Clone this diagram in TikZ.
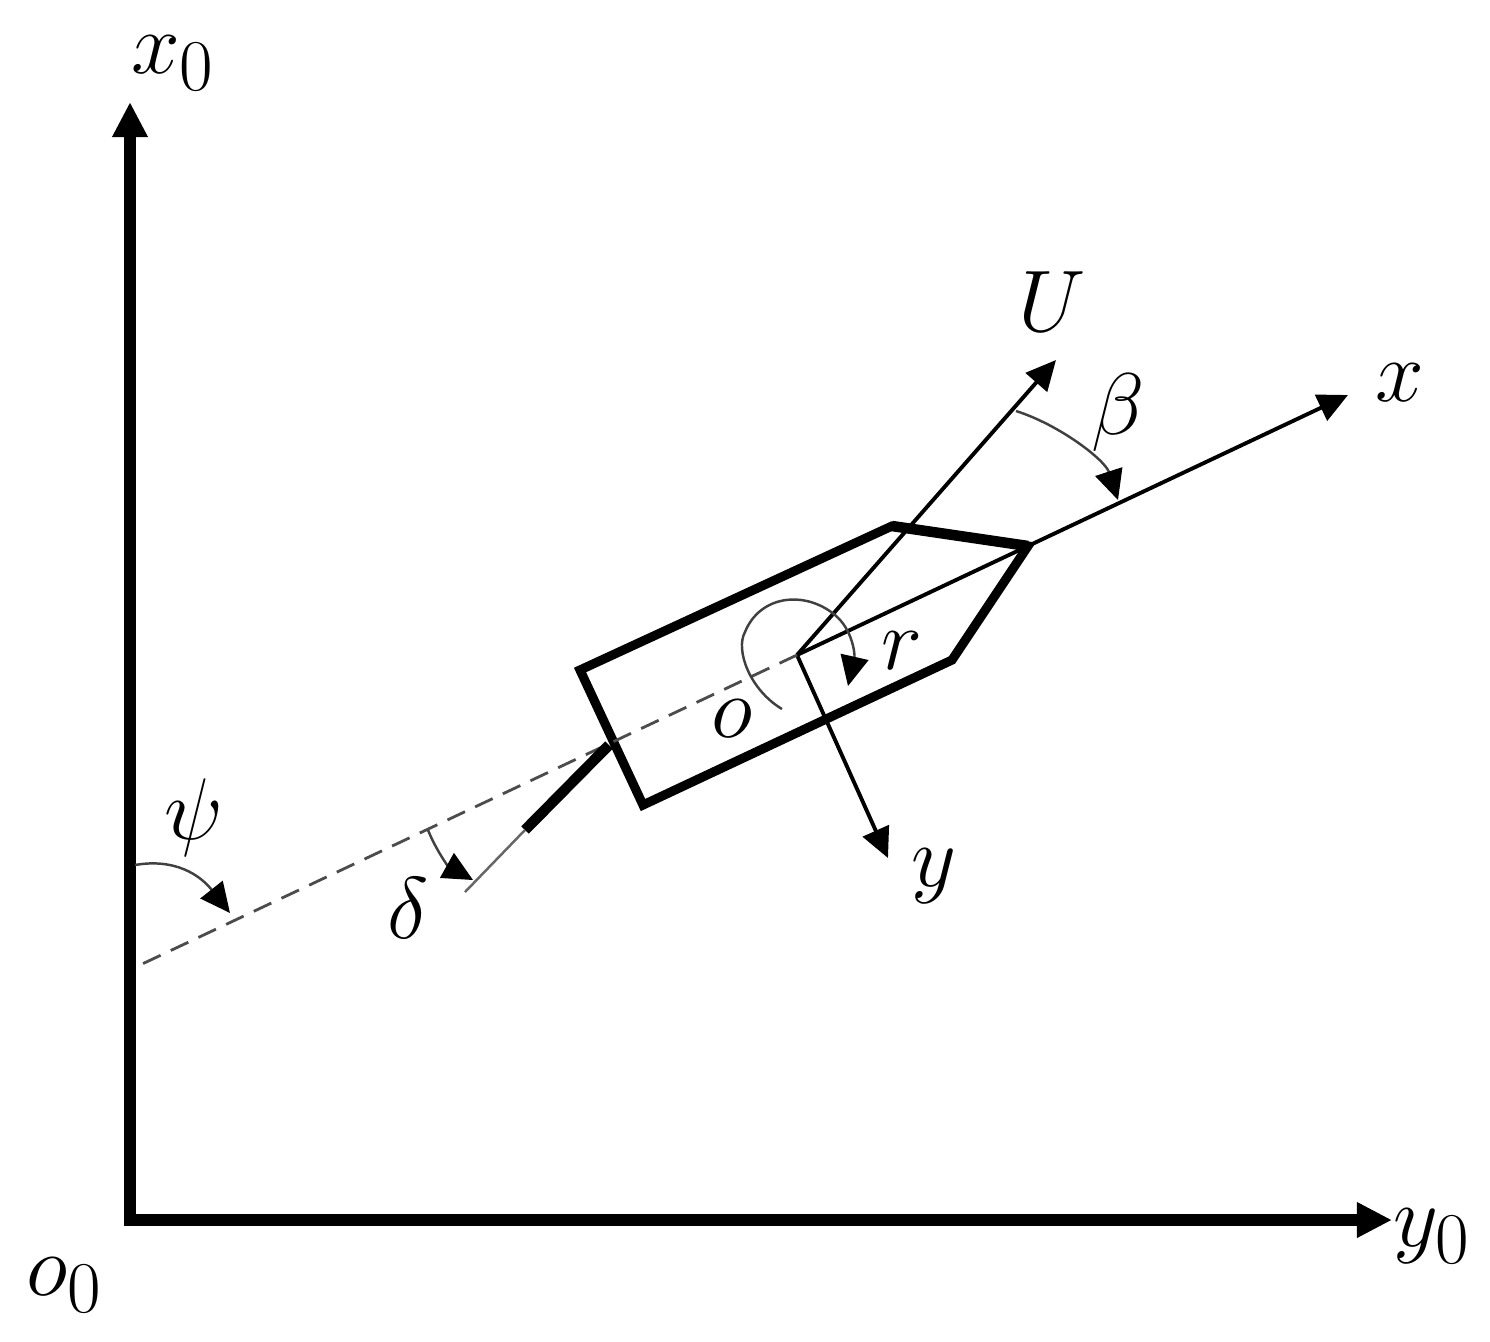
\documentclass[tikz,border=0pt]{standalone}
\usetikzlibrary{arrows.meta}

\tikzset{
  axisline/.style={line width=3.3pt,-{Triangle[length=10pt,width=9.5pt]}},
  vecline/.style={line width=1.1pt,-{Triangle[length=8.5pt,width=8pt]}},
  hullline/.style={line width=2.6pt,line join=miter},
  bendline/.style={line width=0.7pt,black!75,-{Triangle[length=8.5pt,width=8pt,black]}},
  symb/.style={inner sep=0pt,font=\fontsize{27}{30}\selectfont},
  bigsymb/.style={inner sep=0pt,font=\fontsize{30}{33}\selectfont}
}

\begin{document}
\begin{tikzpicture}[x=0.01cm,y=-0.01cm]

\useasboundingbox (0,0) rectangle (1490,1341);

% frame
\coordinate (origin) at (130,1220);
\coordinate (xtip) at (130,102);
\coordinate (ytip) at (1392,1220);
\draw[axisline] (origin) -- (xtip);
\draw[axisline] ([xshift=-1.6pt]origin) -- (ytip);

% hull
\coordinate (stern) at (580,670);
\coordinate (deck) at (892,526);
\coordinate (bow) at (1028,546);
\coordinate (chine) at (952,660);
\coordinate (keel) at (643,805);
\draw[hullline] (stern) -- (deck) -- (bow) -- (chine) -- (keel) -- cycle;
\draw[line width=3pt] (deck) -- (bow);

% body axes
\coordinate (o) at (797,655);
\coordinate (xbody) at (1348,395);
\coordinate (ubody) at (1056,360);
\coordinate (ybody) at (888,858);
\draw[vecline] (o) -- (xbody);
\draw[vecline] (o) -- (ubody);
\draw[vecline] (o) -- (ybody);

% centre line
\coordinate (cline) at (140,965);
\draw[line width=0.8pt,black!70,dash pattern=on 5.5pt off 3.2pt] (o) -- (cline);

% rudder
\coordinate (hinge) at (609,745);
\coordinate (blade) at (525,830);
\coordinate (bladeend) at (465,892);
\draw[line width=3pt] (hinge) -- (blade);
\draw[line width=0.7pt,black!60] (blade) -- (bladeend);

% angles
\coordinate (psia) at (135,865);
\coordinate (psib) at (230,913);
\draw[bendline] (psia) .. controls (175,858) and (200,875) .. (psib);
\coordinate (dela) at (428,830);
\coordinate (delb) at (473,880);
\draw[bendline] (dela) .. controls (436,850) and (448,866) .. (delb);
\coordinate (beta) at (1016,411);
\coordinate (betb) at (1118,500);
\draw[bendline] (beta) .. controls (1060,425) and (1105,460) .. (betb);
\coordinate (ra) at (782,709);
\coordinate (rb) at (848,686);
\draw[bendline] (ra) .. controls (750,690) and (735,650) .. (745,632) .. controls (760,595) and (805,590) .. (835,615) .. controls (853,630) and (855,655) .. (rb);

% labels
\node[bigsymb] (labxzero) at (173,63) {$x_0$};
\node[bigsymb] (labyzero) at (1432,1236) {$y_0$};
\node[bigsymb] (labozero) at (65,1285) {$o_0$};
\node[symb] (labu) at (1052,302) {$U$};
\node[symb] (labbeta) at (1118,413) {$\beta$};
\node[symb] (labx) at (1400,383) {$x$};
\node[symb] (labr) at (902,651) {$r$};
\node[symb] (labo) at (732,719) {$o$};
\node[symb] (laby) at (934,876) {$y$};
\node[inner sep=0pt,font=\fontsize{33}{36}\selectfont] (labpsi) at (194,818) {$\psi$};
\node[bigsymb] (labdelta) at (408,908) {$\delta$};

\end{tikzpicture}
\end{document}
